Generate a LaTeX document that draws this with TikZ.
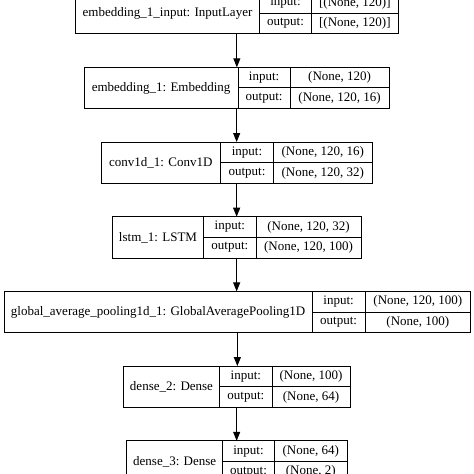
\documentclass[tikz,border=0pt]{standalone}
\usepackage{fontspec}
\setmainfont{Liberation Serif}
\usetikzlibrary{arrows.meta,fit}
\tikzset{
  cell/.style={draw=black, line width=1pt, inner sep=0pt, outer sep=0pt,
    font=\fontsize{13}{15}\selectfont, text=black},
  flow/.style={draw=black, line width=1pt, -{Triangle[length=9pt,width=7pt]}},
}
\newcommand\kerasLayer[9]{%
  \pgfmathsetmacro\wa{#4-#3}%
  \pgfmathsetmacro\wb{#5-#4}%
  \pgfmathsetmacro\wc{#6-#5}%
  \pgfmathsetmacro\yb{#2+41.3}%
  \node[cell, minimum width=\wa pt, minimum height=41.3pt, anchor=north west] (#1-name) at (#3,#2) {#7};
  \node[cell, minimum width=\wb pt, minimum height=20.65pt, anchor=north west] (#1-in) at (#4,#2) {input:};
  \node[cell, minimum width=\wc pt, minimum height=20.65pt, anchor=north west] (#1-inv) at (#5,#2) {#8};
  \node[cell, minimum width=\wb pt, minimum height=20.65pt, anchor=south west] (#1-out) at (#4,\yb) {output:};
  \node[cell, minimum width=\wc pt, minimum height=20.65pt, anchor=south west] (#1-outv) at (#5,\yb) {#9};
  \node[fit=(#1-name)(#1-outv), inner sep=0pt, outer sep=0pt] (#1) {};
}
\begin{document}
\begin{tikzpicture}[x=1pt,y=-1pt]
\fill[white] (0,0) rectangle (474,474);
\useasboundingbox (0,0) rectangle (474,474);
\begin{scope}
\clip (0,0) rectangle (474,474);
\kerasLayer{inp}{-7.4}{75.7}{259.3}{311.7}{398}{embedding\_1\_input: InputLayer}{[(None, 120)]}{[(None, 120)]}
\kerasLayer{emb}{67.3}{84}{238.3}{290}{389.3}{embedding\_1: Embedding}{(None, 120)}{(None, 120, 16)}
\kerasLayer{conv}{142}{101}{220.7}{273.3}{372.3}{conv1d\_1: Conv1D}{(None, 120, 16)}{(None, 120, 32)}
\kerasLayer{lstm}{216.7}{112.3}{203.7}{256}{361}{lstm\_1: LSTM}{(None, 120, 32)}{(None, 120, 100)}
\kerasLayer{gap}{291.4}{4}{312.3}{365}{470.7}{global\_average\_pooling1d\_1: GlobalAveragePooling1D}{(None, 120, 100)}{(None, 100)}
\kerasLayer{dtwo}{366.1}{123.3}{219.7}{272}{350}{dense\_2: Dense}{(None, 100)}{(None, 64)}
\kerasLayer{dthree}{440.8}{126.7}{222.7}{274.3}{347.3}{dense\_3: Dense}{(None, 64)}{(None, 2)}
\draw[flow] (inp.south) -- (inp.south |- emb.north);
\draw[flow] (emb.south) -- (emb.south |- conv.north);
\draw[flow] (conv.south) -- (conv.south |- lstm.north);
\draw[flow] (lstm.south) -- (lstm.south |- gap.north);
\draw[flow] (gap.south) -- (gap.south |- dtwo.north);
\draw[flow] (dtwo.south) -- (dtwo.south |- dthree.north);
\end{scope}
\end{tikzpicture}
\end{document}
